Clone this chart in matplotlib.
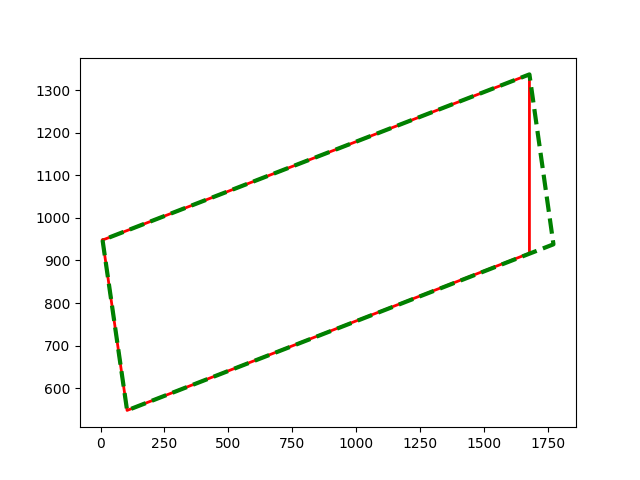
import matplotlib
matplotlib.use("Agg")
import matplotlib.pyplot as plt

red_x = [8, 104, 1678, 1678, 8]
red_y = [948, 548, 917, 1337, 948]
green_x = [8, 104, 1772, 1678, 8]
green_y = [948, 548, 938, 1337, 948]

fig, ax = plt.subplots(figsize=(6.4, 4.8), dpi=100)
ax.plot(red_x, red_y, color='red', linestyle='-', linewidth=2)
ax.plot(green_x, green_y, color='green', linestyle='--', linewidth=3)
fig.savefig("out.png")
